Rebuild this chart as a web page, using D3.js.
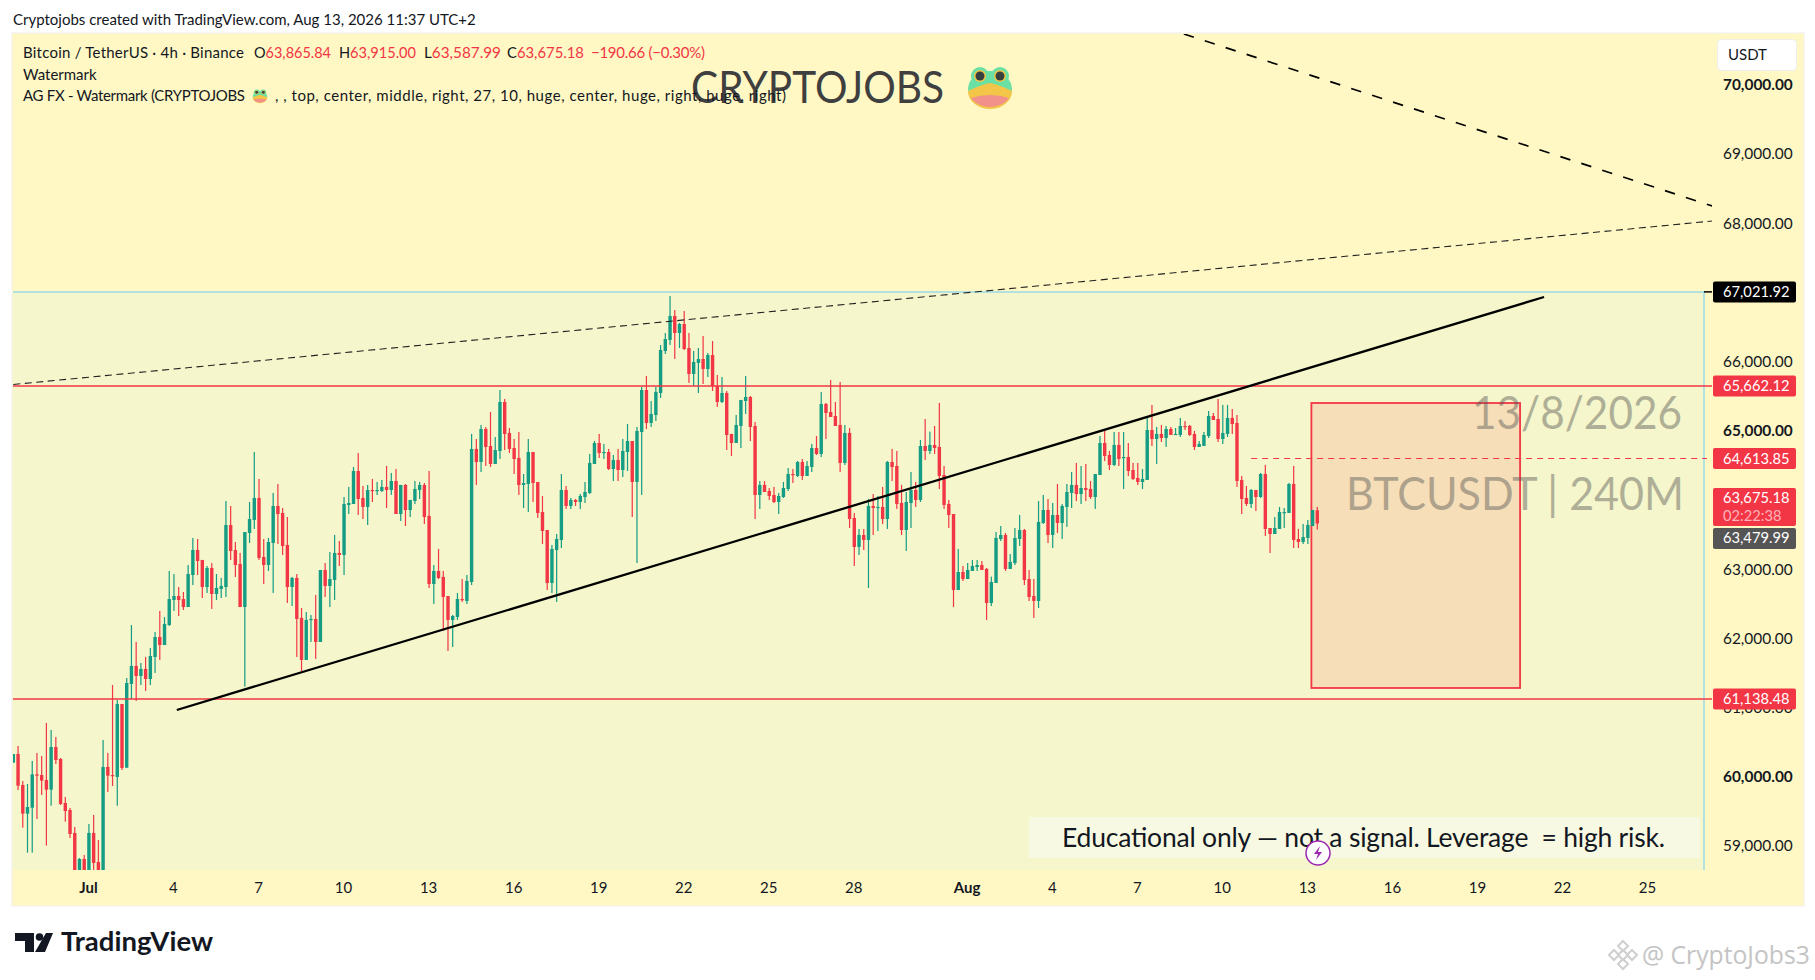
<!DOCTYPE html>
<html>
<head>
<meta charset="utf-8">
<script src="https://cdn.jsdelivr.net/npm/d3@7"></script>
<style>
  html, body { margin: 0; padding: 0; background: #fff; }
  svg { display: block; }
  text { font-family: Lato, "Open Sans", sans-serif; }
</style>
</head>
<body>
<svg id="chart" width="1815" height="980"></svg>
<script>
// 4h candles, first one is Jun 28 2026 08:00 UTC
const opens = [60219,60344,59896,59482,59568,60050,60040,59968,59829,60445,60272,59636,59535,59203,58523,58827,58523,59203,58784,58571,60157,60040,60012,61067,60147,61356,61616,61471,61573,61428,61746,62035,61919,62208,62570,62627,62584,62468,62931,63292,63148,62757,63032,62656,62729,62757,63653,63292,63090,62468,63538,63726,64044,63191,63075,63393,63928,63827,63365,62757,62888,62310,61703,62281,62295,61963,63003,62772,62859,63249,63220,63943,63957,64434,64044,63914,64159,64145,64145,64203,64159,64289,63812,64232,63870,64000,64159,64232,63784,62801,62989,62902,62627,62281,62324,62584,62555,62830,64752,64564,65041,64795,64535,64723,65431,64983,64766,64622,64232,64246,64708,64275,63841,63581,62815,63292,63437,64159,63928,64015,63986,64058,64116,64535,64838,64694,64708,64463,64593,64448,64708,64867,64275,64997,65604,65128,65243,65561,66168,66327,66674,66428,66558,66211,65836,65995,66052,65908,66110,65662,65431,65561,64969,64838,65084,65445,65503,65084,64087,64232,64145,64087,63986,64058,64174,64390,64362,64564,64362,64492,64766,64680,65402,65286,65229,65099,64550,64983,63755,63336,63509,63437,63928,63899,63914,63740,64564,64506,63971,63581,63971,64159,64015,64795,64723,64810,64781,64376,63957,63812,62714,62974,62873,62989,63046,63075,63018,62526,62815,63451,63509,63018,63104,63451,63581,62873,62627,62555,63682,63870,63509,63798,63682,63914,64116,64232,64101,64188,64174,64058,64376,64838,64665,64521,64810,64622,64636,64448,64333,64275,64304,65026,64896,64969,64911,65041,64954,64954,65084,65084,64969,64781,64795,64940,65229,65185,64896,64969,65200,65128,64304,64044,63957,64159,64058,64390,63610,63523,63596,63827,63827,64246,63451,63408,63466,63639,63865.84];
const highs = [60344,60460,59954,59911,60243,60359,60315,60792,60691,60590,60286,59723,59564,59289,58841,58885,59333,59463,59101,60547,60359,61341,61125,61067,61442,62208,61963,61659,61746,61876,62107,62411,62324,62989,62945,62757,62685,63075,63466,63451,63148,63061,63104,62945,62888,64000,63928,63408,63249,63552,63986,64708,64318,63451,63466,64116,64246,63899,63769,62902,62945,62454,62396,62353,62642,63003,63104,63263,63509,63422,64058,64203,64492,64694,64217,64232,64318,64275,64304,64506,64405,64463,64232,64246,64015,64289,64275,64260,64434,63075,63307,62989,62627,62353,62671,62873,62931,64969,64896,65099,65070,65286,64925,65604,65474,65055,64896,64997,64390,64896,64708,64275,64073,63581,63365,63523,64390,64217,64044,64029,64101,64275,64680,64867,64969,64824,64752,64665,64752,64896,65113,64867,65070,65648,65807,65445,65648,66255,66428,66963,66760,66573,66746,66428,66168,66211,66385,66139,66312,65821,65792,65590,64969,65243,65460,65807,65518,65142,64289,64289,64188,64203,64116,64275,64477,64463,64578,64607,64578,64824,64940,65576,65417,65749,65431,65720,65099,65055,63827,63596,63596,64029,64101,64073,64203,64578,64752,64723,64232,64130,64419,64275,64882,65185,65002,65084,65417,64506,64015,63812,63307,63061,63104,63148,63148,63133,63032,62907,63552,63639,63538,63234,63610,63798,63596,63003,62873,64000,64087,64029,63971,64246,63957,64246,64419,64550,64506,64535,64289,64390,64940,65012,64723,64997,64997,64997,64838,64550,64550,64463,65229,65388,65070,65099,65084,65070,65055,65200,65156,65099,65012,64867,64997,65301,65272,65474,65388,65388,65330,65243,64362,64217,64174,64159,64405,64521,63610,63769,63914,63899,64260,64506,63596,63668,63726,63870,63915];
const lows = [60219,59824,59280,58918,58918,59405,59752,59020,59597,60200,59607,59366,59130,58523,58378,58523,58426,58620,58523,58523,59795,59882,59597,60113,60142,61139,61110,61341,61255,61341,61515,61703,61919,62194,62411,62338,62425,62468,62786,62931,62598,62671,62440,62570,62598,62613,63148,62902,62468,61317,63393,63596,63148,62801,62989,62671,63379,63220,62526,62483,61746,61544,61703,61963,61717,61963,62613,62468,62570,63061,62931,63812,63957,63798,63740,63653,63986,64087,64130,63899,64087,63812,63711,63639,63769,63957,64029,63668,62743,62512,62873,62122,61833,61890,62281,62541,62512,62786,64232,64419,64506,64492,64535,64607,64737,64694,64390,64087,63899,63841,63986,63755,63379,62714,62671,62541,63321,63885,63885,63928,63885,63971,64101,64535,64622,64607,64448,64289,64289,64347,64434,63769,63104,64087,65041,65070,65156,65489,66125,66255,66052,66211,66182,65706,65662,65561,65691,65792,65590,65359,65417,64737,64651,64838,64766,65258,64867,63740,63885,64130,64015,63971,63812,64044,64145,64260,64347,64304,64362,64419,64665,64636,64896,65214,65084,64419,64521,63610,63061,63220,63292,62743,63509,63567,63668,63596,64289,63885,63509,63278,63610,63914,63986,64593,64680,64680,64174,63885,63610,62468,62714,62844,62873,62989,62989,63003,62281,62483,62815,63422,62989,63018,63075,63350,62786,62555,62310,62454,63668,63393,63321,63538,63451,63625,63899,64000,63957,64000,64029,63885,64376,64578,64448,64506,64506,64174,64362,64304,64232,64174,64304,64795,64535,64853,64781,64954,64954,64925,65026,64940,64737,64781,64795,64911,65171,64853,64824,64925,64969,64203,63812,63928,63899,63856,64044,63495,63249,63523,63596,63610,63827,63321,63321,63379,63379,63639,63587.99];
const closes = [60344,59886,59482,59578,60050,60031,59959,59829,60445,60257,59622,59520,59188,58571,58827,58571,59203,58769,58571,60157,60031,60031,61067,60142,61370,61616,61471,61573,61428,61760,62035,61919,62223,62584,62627,62570,62468,62945,63292,63133,62757,63032,62656,62743,62772,63653,63278,63075,62468,63552,63740,64044,63177,63075,63408,63928,63812,63350,62757,62888,62295,61703,62281,62295,61963,63003,62772,62873,63249,63220,63957,63971,64434,64029,63914,64159,64145,64159,64203,64159,64289,63812,64232,63870,64015,64174,64232,63769,62801,62989,62888,62613,62281,62338,62584,62570,62844,64752,64564,65041,64781,64535,64737,65431,64969,64752,64607,64232,64260,64708,64260,63827,63567,62815,63307,63451,64159,63928,64015,63986,64073,64130,64550,64838,64694,64708,64463,64593,64448,64723,64867,64275,65012,65604,65128,65258,65576,66182,66341,66674,66428,66558,66197,65836,66009,66052,65908,66110,65662,65431,65561,64954,64838,65099,65460,65503,65070,64087,64232,64130,64073,63986,64073,64188,64390,64376,64564,64362,64506,64766,64680,65402,65272,65214,65084,64550,64983,63740,63336,63509,63437,63928,63899,63914,63740,64564,64492,63957,63581,63986,64159,64015,64795,64723,64810,64766,64362,63943,63798,62714,62974,62873,63003,63061,63075,63003,62526,62830,63466,63509,63018,63119,63466,63581,62859,62613,62555,63697,63870,63509,63798,63682,63928,64130,64232,64101,64188,64159,64058,64390,64838,64651,64521,64810,64607,64636,64434,64318,64275,64318,65026,64896,64969,64911,65041,64954,64969,65084,65070,64954,64781,64824,64954,65229,65171,64896,64983,65200,65113,64289,64029,63957,64159,64058,64390,63596,63523,63610,63841,63841,64246,63437,63408,63480,63654,63870,63675.18];

// y axis labels and the chart's price lines
const priceTicks = [59000,60000,61000,62000,63000,64000,65000,66000,67000,68000,69000,70000];
const boldTicks = [60000,65000,70000];
const resistance = 65662.12, support = 61138.48, rangeTop = 67021.92;
const dashedLevel = 64613.85;
// x axis, day labels
const tickDates = ["2026-07-01","2026-07-04","2026-07-07","2026-07-10","2026-07-13","2026-07-16","2026-07-19","2026-07-22","2026-07-25","2026-07-28","2026-08-01","2026-08-04","2026-08-07","2026-08-10","2026-08-13","2026-08-16","2026-08-19","2026-08-22","2026-08-25"];
const monthTicks = ["2026-07-01","2026-08-01"];
// hand drawn lines, [date, price]
const trendLine = [["2026-07-04T02:24Z",60980],["2026-08-21T08:00Z",66948]];
const channelThin = [["2026-06-28T08:00Z",65684],["2026-08-27T06:20Z",68046]];
const channelThick = [["2026-08-08T15:00Z",70749],["2026-08-27T06:20Z",68263]];
const boxDates = ["2026-08-13T03:00Z","2026-08-20T11:40Z"], boxPrices = [65416,61298];
const dashedStart = "2026-08-11T00:00Z";

const paneL = 13, paneR = 1704, paneT = 34, paneB = 870, axisR = 1803, axisB = 905;
const red = "#F23645", green = "#149C84";
const yellow = "#FFF8C4", inner = "#F5F6CB";

const svg = d3.select("#chart");
const t0 = new Date("2026-06-28T08:00Z");
const times = opens.map((d, i) => new Date(+t0 + i * 4 * 3600 * 1000));

const x = d3.scaleUtc().domain([t0, times[times.length - 1]]).range([13.33, 1317.3]);
const y = d3.scaleLinear().domain([59000, 70000]).range([847, 85.8]);

// Card background
svg.append("rect").attr("x", paneL - 1).attr("y", paneT - 1).attr("width", axisR - paneL + 2).attr("height", axisB - paneT + 2)
  .attr("fill", yellow).attr("stroke", "#f0f0f0");

svg.append("text").attr("x", 13).attr("y", 25).attr("font-size", 15).attr("fill", "#131722")
  .text("Cryptojobs created with TradingView.com, Aug 13, 2026 11:37 UTC+2");

const defs = svg.append("defs");
defs.append("clipPath").attr("id", "pane").append("rect")
  .attr("x", paneL).attr("y", paneT).attr("width", paneR - paneL + 8).attr("height", paneB - paneT);
defs.append("clipPath").attr("id", "candles").append("rect")
  .attr("x", paneL).attr("y", paneT).attr("width", paneR - paneL).attr("height", paneB - paneT);

// Range box
svg.append("rect").attr("x", paneL).attr("y", y(rangeTop)).attr("width", paneR - paneL).attr("height", paneB - y(rangeTop))
  .attr("fill", inner);
svg.append("path")
  .attr("d", `M${paneL},${y(rangeTop)}H${paneR}V${paneB}`)
  .attr("fill", "none").attr("stroke", "#9ADBE6").attr("stroke-width", 1.5);

// Price axis
const yAxis = d3.axisRight(y).tickValues(priceTicks).tickSize(0).tickPadding(0)
  .tickFormat(d3.format(",.2f"));
const yG = svg.append("g").attr("transform", `translate(1723,-1)`).call(yAxis);
yG.select(".domain").remove();
yG.selectAll("text").attr("font-size", 15.4).attr("fill", "#131722").style("font-family", "Lato")
  .attr("font-weight", d => boldTicks.includes(d) ? 700 : 400);

// Time axis
const xAxis = d3.axisBottom(x).tickValues(tickDates.map(d => new Date(d + "T00:00Z"))).tickSize(0).tickPadding(0)
  .tickFormat(d => monthTicks.includes(d.toISOString().slice(0, 10))
    ? d3.utcFormat("%b")(d) : d3.utcFormat("%-d")(d));
const xG = svg.append("g").attr("transform", `translate(-1,882)`).call(xAxis);
xG.select(".domain").remove();
xG.selectAll("text").attr("font-size", 15).attr("fill", "#131722").style("font-family", "Lato")
  .attr("font-weight", d => monthTicks.includes(d.toISOString().slice(0, 10)) ? 700 : 400);

// Peach box
svg.append("rect")
  .attr("x", x(new Date(boxDates[0]))).attr("y", y(boxPrices[0]))
  .attr("width", x(new Date(boxDates[1])) - x(new Date(boxDates[0])))
  .attr("height", y(boxPrices[1]) - y(boxPrices[0]))
  .attr("fill", "#F5DEB8").attr("stroke", red).attr("stroke-width", 1.8);

// Candles
const candleG = svg.append("g").attr("clip-path", "url(#candles)");
const candle = candleG.selectAll("g").data(opens).enter().append("g")
  .attr("fill", (d, i) => closes[i] >= opens[i] ? green : red);
candle.append("rect")
  .attr("x", (d, i) => x(times[i]) - 0.6).attr("width", 1.2)
  .attr("y", (d, i) => y(highs[i]))
  .attr("height", (d, i) => y(lows[i]) - y(highs[i]));
candle.append("rect")
  .attr("x", (d, i) => x(times[i]) - 1.7).attr("width", 3.4)
  .attr("y", (d, i) => y(Math.max(opens[i], closes[i])))
  .attr("height", (d, i) => Math.max(1.2, Math.abs(y(opens[i]) - y(closes[i]))));

// Horizontal levels
const levelG = svg.append("g");
[resistance, support].forEach(p => {
  levelG.append("line").attr("x1", paneL).attr("x2", 1712).attr("y1", y(p)).attr("y2", y(p))
    .attr("stroke", red).attr("stroke-width", 1.7);
});
levelG.append("line").attr("x1", paneR).attr("x2", 1712).attr("y1", y(rangeTop)).attr("y2", y(rangeTop))
  .attr("stroke", "#000").attr("stroke-width", 1.5);
levelG.append("line").attr("x1", x(new Date(dashedStart))).attr("x2", 1707)
  .attr("y1", y(dashedLevel)).attr("y2", y(dashedLevel))
  .attr("stroke", red).attr("stroke-width", 1.1).attr("stroke-dasharray", "6 5");

// Trend lines
const line = d3.line().x(d => x(new Date(d[0]))).y(d => y(d[1]));
const lineG = svg.append("g").attr("clip-path", "url(#pane)");
lineG.append("path").attr("d", line(trendLine)).attr("fill", "none").attr("stroke", "#000").attr("stroke-width", 2.3);
lineG.append("path").attr("d", line(channelThin)).attr("fill", "none").attr("stroke", "#222")
  .attr("stroke-width", 1.1).attr("stroke-dasharray", "7 4.5");
lineG.append("path").attr("d", line(channelThick)).attr("fill", "none").attr("stroke", "#000")
  .attr("stroke-width", 1.7).attr("stroke-dasharray", "10.5 11.5");

// Watermark texts
svg.append("text").attr("x", 1472).attr("y", 429).attr("font-size", 46)
  .attr("textLength", 210).attr("lengthAdjust", "spacingAndGlyphs")
  .attr("fill", "#505050").attr("opacity", 0.42).text("13/8/2026");
svg.append("text").attr("x", 1346).attr("y", 510).attr("font-size", 46)
  .attr("textLength", 338).attr("lengthAdjust", "spacingAndGlyphs")
  .attr("fill", "#505050").attr("opacity", 0.42).text("BTCUSDT | 240M");
svg.append("text").attr("x", 691).attr("y", 103).attr("font-size", 44)
  .attr("textLength", 253).attr("lengthAdjust", "spacingAndGlyphs")
  .attr("fill", "#3f3f3f").text("CRYPTOJOBS");

// Frog
function frog(g, s) {
  g.attr("transform", `scale(${s})`);
  g.append("ellipse").attr("cx", 0).attr("cy", 2).attr("rx", 22).attr("ry", 18).attr("fill", "#6be0a4");
  g.append("path").attr("d", "M-22,4 Q-10,-2 0,-4 Q10,-2 22,4 A22,18 0 0 1 -22,4Z").attr("fill", "#f3c64a");
  g.append("path").attr("d", "M-19,11 Q0,5 19,11 A22,18 0 0 1 -19,11Z").attr("fill", "#f2908a");
  [-10, 10].forEach(cx => {
    g.append("circle").attr("cx", cx).attr("cy", -11).attr("r", 9).attr("fill", "#6be0a4");
    g.append("circle").attr("cx", cx).attr("cy", -11).attr("r", 6).attr("fill", "#f3c64a");
    g.append("circle").attr("cx", cx).attr("cy", -11).attr("r", 4.5).attr("fill", "#37403c");
  });
}
const bigFrog = svg.append("g").attr("transform", "translate(990,87)");
frog(bigFrog.append("g"), 1);
const smallFrog = svg.append("g").attr("transform", "translate(260,96)");
frog(smallFrog.append("g"), 0.33);

// Legend
const legend = svg.append("g").attr("font-size", 15).attr("fill", "#131722");
legend.append("text").attr("x", 23).attr("y", 58).attr("textLength", 221).text("Bitcoin / TetherUS · 4h · Binance");
[["O", 254, "63,865.84"], ["H", 339, "63,915.00"], ["L", 424, "63,587.99"], ["C", 507, "63,675.18"]].forEach(d => {
  const t = legend.append("text").attr("x", d[1]).attr("y", 58).attr("textLength", 77).attr("lengthAdjust", "spacingAndGlyphs");
  t.append("tspan").text(d[0]);
  t.append("tspan").attr("fill", red).text(d[2]);
});
legend.append("text").attr("x", 591).attr("y", 58).attr("textLength", 114).attr("fill", red).text("−190.66 (−0.30%)");
legend.append("text").attr("x", 23).attr("y", 80).text("Watermark");
legend.append("text").attr("x", 23).attr("y", 101).attr("textLength", 222).text("AG FX - Watermark (CRYPTOJOBS");
legend.append("text").attr("x", 275).attr("y", 101).attr("textLength", 511)
  .text(", , top, center, middle, right, 27, 10, huge, center, huge, right, huge, right)");

// USDT button
svg.append("rect").attr("x", 1717.5).attr("y", 39.5).attr("width", 79).attr("height", 31).attr("rx", 4)
  .attr("fill", "#fff").attr("stroke", "#eee");
svg.append("text").attr("x", 1728).attr("y", 60).attr("font-size", 15).attr("fill", "#131722").text("USDT");

// Price tags
const tags = [
  { p: rangeTop, bg: "#000", t: "67,021.92" },
  { p: resistance, bg: red, t: "65,662.12" },
  { p: dashedLevel, bg: red, t: "64,613.85" },
  { p: support, bg: red, t: "61,138.48" }
];
tags.forEach(d => {
  svg.append("rect").attr("x", 1713).attr("y", y(d.p) - 10.5).attr("width", 83).attr("height", 21).attr("rx", 2).attr("fill", d.bg);
  svg.append("text").attr("x", 1723).attr("y", y(d.p) + 5).attr("font-size", 14.7).attr("fill", "#fff").text(d.t);
});
svg.append("rect").attr("x", 1713).attr("y", 488).attr("width", 83).attr("height", 38).attr("rx", 2).attr("fill", red);
svg.append("text").attr("x", 1723).attr("y", 503).attr("font-size", 14.7).attr("fill", "#fff").text("63,675.18");
svg.append("text").attr("x", 1723).attr("y", 521).attr("font-size", 14.7).attr("fill", "#ffb3ba").text("02:22:38");
svg.append("rect").attr("x", 1713).attr("y", 528).attr("width", 83).attr("height", 21).attr("rx", 2).attr("fill", "#555");
svg.append("text").attr("x", 1723).attr("y", 543).attr("font-size", 14.7).attr("fill", "#fff").text("63,479.99");

// Disclaimer
svg.append("rect").attr("x", 1029).attr("y", 817).attr("width", 671).attr("height", 41).attr("fill", "#F8F9E3");
svg.append("text").attr("x", 1062).attr("y", 847).attr("font-size", 26.5).attr("textLength", 603).attr("fill", "#131722")
  .style("white-space", "pre").text("Educational only — not a signal. Leverage  = high risk.");
svg.append("circle").attr("cx", 1318).attr("cy", 853).attr("r", 12).attr("fill", "#fff").attr("stroke", "#9C27B0").attr("stroke-width", 1.5);
svg.append("path").attr("d", "M1320,846 L1314,854 H1318 L1316,860 L1322,852 H1318Z").attr("fill", "#9C27B0");

// TradingView logo
svg.append("path").attr("d", "M15,933 H34 V952 H25 V941 H15Z M46,933 H53 L45,952 H35Z").attr("fill", "#131722");
svg.append("circle").attr("cx", 39.5).attr("cy", 937).attr("r", 3.8).attr("fill", "#131722");
svg.append("text").attr("x", 61).attr("y", 951).attr("font-size", 27.5).attr("font-weight", 700)
  .attr("textLength", 152).attr("lengthAdjust", "spacingAndGlyphs").attr("fill", "#131722").text("TradingView");

// Footer watermark
const mark = svg.append("g").attr("fill", "none").attr("stroke", "#cfcfcf").attr("stroke-width", 2);
[[0, -9], [-9, 0], [9, 0], [0, 9], [0, 0]].forEach(d => {
  mark.append("path").attr("d", `M${1623 + d[0]},${955 + d[1] - 5} l5,5 l-5,5 l-5,-5Z`);
});
svg.append("text").attr("x", 1642).attr("y", 964).attr("font-size", 24.7).attr("fill", "#c4c4c4")
  .style("font-family", "Open Sans").text("@ CryptoJobs3");
</script>
</body>
</html>
